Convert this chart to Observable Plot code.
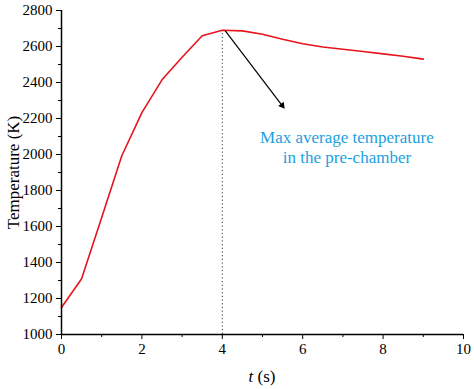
<!DOCTYPE html>
<html>
<head>
<meta charset="utf-8">
<script src="https://cdn.jsdelivr.net/npm/d3@7"></script>
<script src="https://cdn.jsdelivr.net/npm/@observablehq/plot@0.6"></script>
<style>
  html, body { margin: 0; padding: 0; background: #fff; }
  #chart svg { display: block; }
</style>
</head>
<body>
<div id="chart"></div>
<script>
const time = [0, 0.5, 1, 1.5, 2, 2.5, 3, 3.5, 4, 4.5, 5, 5.5, 6, 6.5, 7, 7.5, 8, 8.5, 9];
const temperature = [1150, 1310, 1650, 1993, 2233, 2415, 2540, 2660, 2690, 2687, 2668, 2640, 2615, 2597, 2585, 2572, 2559, 2546, 2530];
const xMajorTicks = [0, 2, 4, 6, 8, 10];
const xMinorTicks = [1, 3, 5, 7, 9];
const yMajorTicks = [1000, 1200, 1400, 1600, 1800, 2000, 2200, 2400, 2600, 2800];
const yMinorTicks = [1100, 1300, 1500, 1700, 1900, 2100, 2300, 2500, 2700];
const annotationLines = ["Max average temperature", "in the pre-chamber"];
const annotationY = [2095, 1983];
const peakTime = 4;
const peakTemp = 2690;
const arrowStart = {x: 4.07, y: 2688};
const arrowEnd = {x: 5.55, y: 2255};
const arrowHead = {x: 5.49, y: 2272};

const data = time.map((t, i) => ({t, T: temperature[i]}));

const chart = Plot.plot({
  width: 474,
  height: 389,
  marginLeft: 61,
  marginRight: 11,
  marginTop: 10,
  marginBottom: 55,
  style: {fontFamily: "'Liberation Serif', 'Times New Roman', serif", fontSize: "14px", color: "#000", background: "#fff"},
  x: {domain: [0, 10]},
  y: {domain: [1000, 2800]},
  marks: [
    Plot.ruleX([peakTime], {y1: 1000, y2: peakTemp, stroke: "#333", strokeDasharray: "1.2,2.5", strokeWidth: 1}),
    Plot.line(data, {x: "t", y: "T", stroke: "#e8141c", strokeWidth: 1.6}),
    Plot.link([{x1: arrowStart.x, y1: arrowStart.y, x2: arrowHead.x, y2: arrowHead.y}], {x1: "x1", y1: "y1", x2: "x2", y2: "y2", stroke: "#000", strokeWidth: 1.2}),
    Plot.dot([arrowHead], {x: "x", y: "y", symbol: "triangle", r: 2.6, fill: "#000", stroke: "none", rotate: 142}),
    Plot.text(annotationLines, {x: 7.1, y: (d, i) => annotationY[i], text: d => d, fill: "#1b9fe2", fontSize: 17, textAnchor: "middle"}),
    Plot.axisX({ticks: xMajorTicks, tickSize: 5, tickPadding: 4, fontSize: 15, label: null, tickFormat: d => String(d)}),
    Plot.axisX({ticks: xMinorTicks, tickSize: 3, text: null, label: null}),
    Plot.axisY({ticks: yMajorTicks, tickSize: 5, tickPadding: 4, fontSize: 15, tickFormat: d => String(d), label: null}),
    Plot.axisY({ticks: yMinorTicks, tickSize: 3, text: null, label: null}),
    Plot.text(["Temperature (K)"], {frameAnchor: "left", textAnchor: "middle", rotate: -90, dx: -48, fontSize: 17, fill: "#000"}),
    Plot.ruleX([0], {stroke: "#000", strokeWidth: 1.5}),
    Plot.ruleY([1000], {stroke: "#000", strokeWidth: 1.5})
  ]
});

// x-axis title with italic variable
const xs = chart.scale("x");
const svg = d3.select(chart.tagName === "svg" ? chart : chart.querySelector("svg"));
const lbl = svg.append("text")
  .attr("x", xs.apply(5))
  .attr("y", 382)
  .attr("text-anchor", "middle")
  .attr("font-size", 17)
  .attr("fill", "#000");
lbl.append("tspan").attr("font-style", "italic").text("t");
lbl.append("tspan").text(" (s)");

document.getElementById("chart").appendChild(chart);
</script>
</body>
</html>
